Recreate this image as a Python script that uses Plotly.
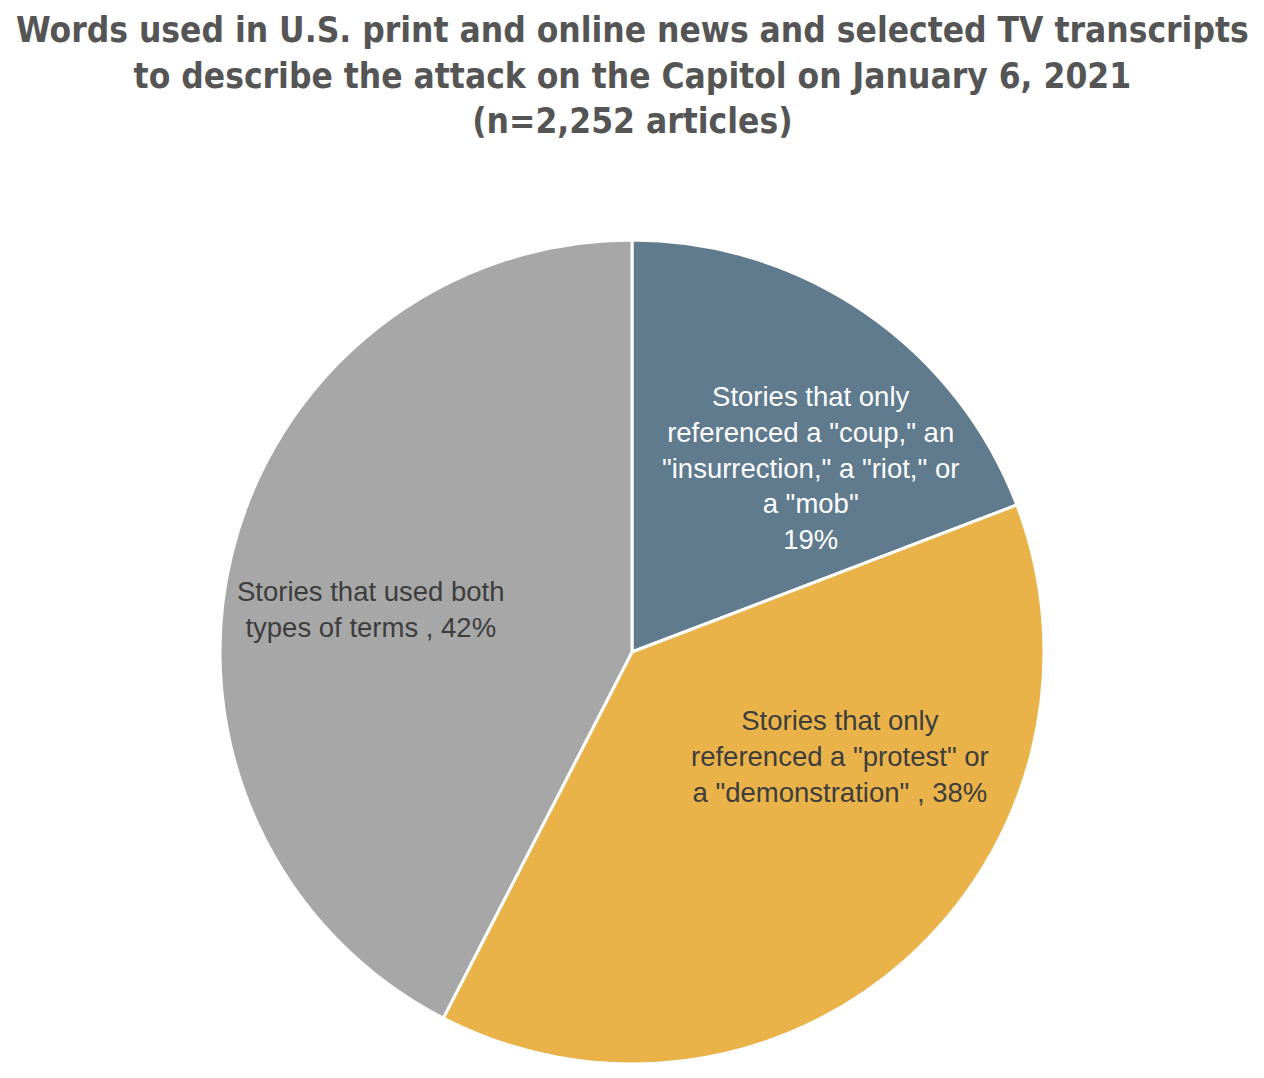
import plotly.graph_objects as go

categories = [
    'Stories that only<br>referenced a "coup," an<br>"insurrection," a "riot," or<br>a "mob"',
    'Stories that only<br>referenced a "protest" or<br>a "demonstration"',
    'Stories that used both<br>types of terms',
]
values = [19, 38, 42]
label_texts = [
    categories[0] + '<br>19%',
    categories[1] + ' , 38%',
    categories[2] + ' , 42%',
]
colors = ["#607b8e", "#e9b349", "#a7a7a7"]
label_colors = ["#ffffff", "#3d3d3d", "#3d3d3d"]
label_pos = [(810, 468), (840, 756), (371, 609)]

W, H = 1264, 1078
cx, cy, r = 632, 652, 412

fig = go.Figure(go.Pie(
    values=values,
    labels=['coup/insurrection/riot/mob', 'protest/demonstration', 'both'],
    marker=dict(colors=colors, line=dict(color="white", width=3)),
    sort=False,
    direction="clockwise",
    rotation=0,
    textinfo="none",
    hoverinfo="label+percent",
    domain=dict(x=[(cx - r) / W, (cx + r) / W], y=[1 - (cy + r) / H, 1 - (cy - r) / H]),
    showlegend=False,
))

for t, c, (x, y) in zip(label_texts, label_colors, label_pos):
    fig.add_annotation(
        x=x / W, y=1 - y / H, xref="paper", yref="paper",
        text=t, showarrow=False, align="center", yanchor="middle", xanchor="center",
        font=dict(family="Liberation Sans", size=27.5, color=c),
    )

fig.add_annotation(
    x=0.5, y=1 - 75 / H, xref="paper", yref="paper",
    text="Words used in U.S. print and online news and selected TV transcripts<br>to describe the attack on the Capitol on January 6, 2021<br>(n=2,252 articles)",
    showarrow=False, align="center", yanchor="middle", xanchor="center",
    font=dict(family="DejaVu Sans Condensed, DejaVu Sans", size=35, color="#555555", weight="bold"),
)

fig.update_layout(
    width=W, height=H,
    margin=dict(l=0, r=0, t=0, b=0),
    paper_bgcolor="white",
    plot_bgcolor="white",
)

fig.write_html("out.html")
